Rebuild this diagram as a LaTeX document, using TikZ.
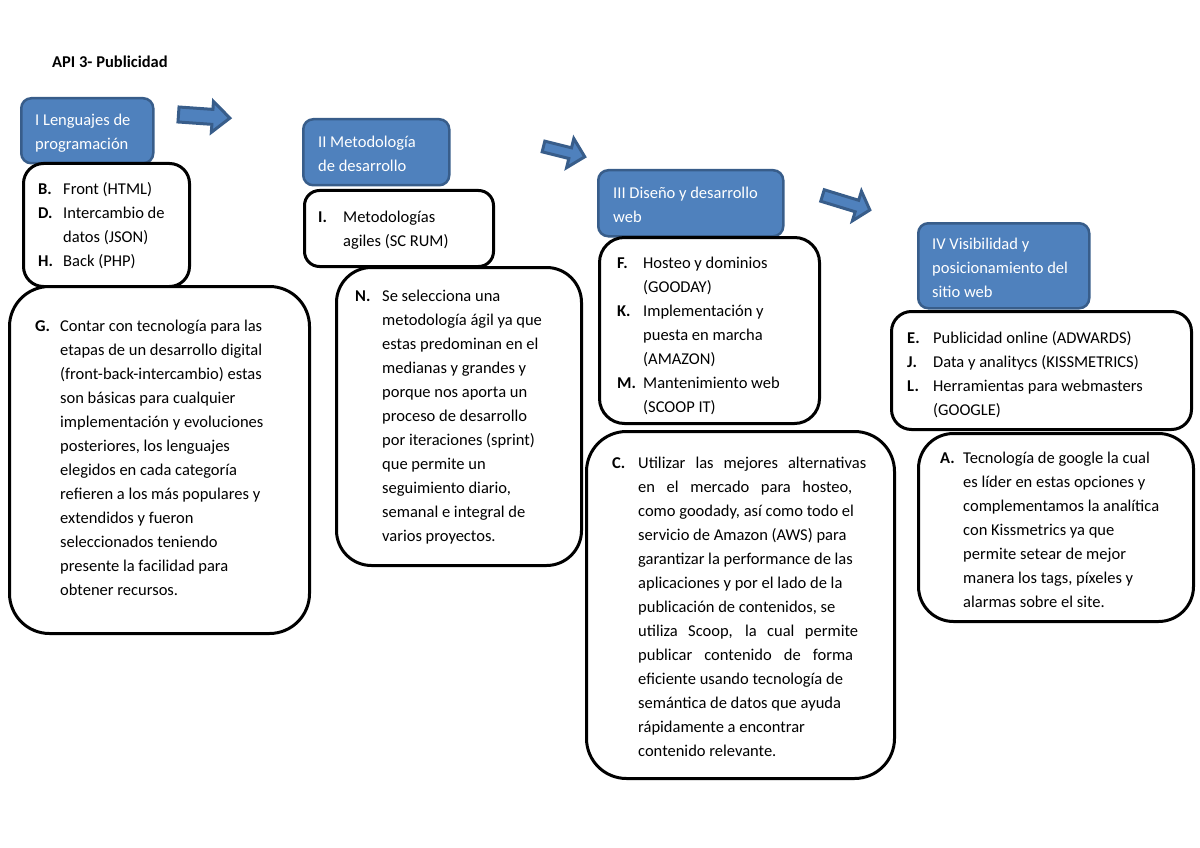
\documentclass[tikz,border=0pt]{standalone}
\usepackage{fontspec}
\setmainfont{Carlito}
\definecolor{bfill}{HTML}{4F81BD}
\definecolor{bline}{HTML}{385D8A}
\newcommand{\itemlab}[2][25pt]{\makebox[#1][l]{\bfseries #2}}
\newcommand{\fst}{\rule{0pt}{16pt}}
\begin{document}
\begin{tikzpicture}[x=1pt,y=-1pt,
  bluebox/.style={draw=bline, fill=bfill, line width=2.5pt, rounded corners=10pt, anchor=north west, inner sep=0pt},
  blackbox/.style={draw=black, fill=white, line width=3pt, rounded corners=#1, anchor=north west, inner sep=0pt},
  txt/.style={anchor=north west, inner sep=0pt, align=left, font=\fontsize{16.5}{24}\selectfont},
  wtxt/.style={txt, text=white},
  arr/.style={draw=bline, fill=bfill, line width=3pt, line join=miter}]
\useasboundingbox (0,0) rectangle (1200,848);

% title
\node[txt, font=\fontsize{16.5}{24}\selectfont\bfseries] (title) at (52,51) {\fst API 3- Publicidad};

% blue heading boxes
\node[bluebox, minimum width=132pt, minimum height=65pt] (h1) at (20,97) {};
\node[bluebox, minimum width=146pt, minimum height=66pt] (h2) at (302,118) {};
\node[bluebox, minimum width=185pt, minimum height=66pt] (h3) at (597,169) {};
\node[bluebox, minimum width=171pt, minimum height=85pt] (h4) at (917,222) {};

\node[wtxt] (h1t) at (35,109) {\fst I Lenguajes de\\programación};
\node[wtxt] (h2t) at (318,131) {\fst II Metodología\\de desarrollo};
\node[wtxt] (h3t) at (613,182) {\fst III Diseño y desarrollo\\web};
\node[wtxt] (h4t) at (932,233) {\fst IV Visibilidad y\\posicionamiento del\\sitio web};

% arrows
\begin{scope}[shift={(178.5,114.5)}, rotate=-4]
  \draw[arr] (0,-7.5) -- (34,-7.5) -- (34,-15.5) -- (51.5,0) -- (34,15.5) -- (34,7.5) -- (0,7.5) -- cycle;
\end{scope}
\begin{scope}[shift={(543.5,146.5)}, rotate=-14]
  \draw[arr] (0,-5.5) -- (27.5,-5.5) -- (27.5,-15) -- (42.5,0) -- (27.5,15) -- (27.5,5.5) -- (0,5.5) -- cycle;
\end{scope}
\begin{scope}[shift={(822.5,195.5)}, rotate=-17]
  \draw[arr] (0,-6) -- (36,-6) -- (36,-15.5) -- (49.5,0) -- (36,15.5) -- (36,6) -- (0,6) -- cycle;
\end{scope}

% column I
\node[blackbox=20pt, minimum width=166pt, minimum height=123pt] (b1) at (22,162) {};
\node[blackbox=40pt, minimum width=300pt, minimum height=347pt] (g1) at (8,285) {};
\node[txt] (b1t) at (38,178) {\fst\itemlab{B.}Front (HTML)\\\itemlab{D.}Intercambio de\\\hspace*{25pt}datos (JSON)\\\itemlab{H.}Back (PHP)};
\node[txt] (g1t) at (35,315) {\fst\itemlab{G.}Contar con tecnología para las\\
\hspace*{25pt}etapas de un desarrollo digital\\
\hspace*{25pt}(front-back-intercambio) estas\\
\hspace*{25pt}son básicas para cualquier\\
\hspace*{25pt}implementación y evoluciones\\
\hspace*{25pt}posteriores, los lenguajes\\
\hspace*{25pt}elegidos en cada categoría\\
\hspace*{25pt}refieren a los más populares y\\
\hspace*{25pt}extendidos y fueron\\
\hspace*{25pt}seleccionados teniendo\\
\hspace*{25pt}presente la facilidad para\\
\hspace*{25pt}obtener recursos.};

% column II
\node[blackbox=15pt, minimum width=189pt, minimum height=76pt] (b2) at (303,189) {};
\node[blackbox=35pt, minimum width=245pt, minimum height=298pt] (n2) at (335,266) {};
\node[txt] (b2t) at (318,206) {\fst\itemlab{I.}Metodologías\\\hspace*{25pt}agiles (SC RUM)};
\node[txt] (n2t) at (355,285) {\fst\itemlab[27pt]{N.}Se selecciona una\\
\hspace*{27pt}metodología ágil ya que\\
\hspace*{27pt}estas predominan en el\\
\hspace*{27pt}medianas y grandes y\\
\hspace*{27pt}porque nos aporta un\\
\hspace*{27pt}proceso de desarrollo\\
\hspace*{27pt}por iteraciones (sprint)\\
\hspace*{27pt}que permite un\\
\hspace*{27pt}seguimiento diario,\\
\hspace*{27pt}semanal e integral de\\
\hspace*{27pt}varios proyectos.};

% column III
\node[blackbox=25pt, minimum width=220pt, minimum height=186pt] (b3) at (598,236) {};
\node[blackbox=40pt, minimum width=308pt, minimum height=347pt] (c3) at (585,430) {};
\node[txt] (b3t) at (617,252) {\fst\itemlab[26pt]{F.}Hosteo y dominios\\
\hspace*{26pt}(GOODAY)\\
\itemlab[26pt]{K.}Implementación y\\
\hspace*{26pt}puesta en marcha\\
\hspace*{26pt}(AMAZON)\\
\itemlab[26pt]{M.}Mantenimiento web\\
\hspace*{26pt}(SCOOP IT)};
\node[txt] (c3t) at (612,452) {\fst\itemlab[26pt]{C.}\makebox[228pt][s]{Utilizar las mejores alternativas}\\
\hspace*{26pt}\makebox[214pt][s]{en el mercado para hosteo,}\\
\hspace*{26pt}como goodady, así como todo el\\
\hspace*{26pt}servicio de Amazon (AWS) para\\
\hspace*{26pt}garantizar la performance de las\\
\hspace*{26pt}aplicaciones y por el lado de la\\
\hspace*{26pt}publicación de contenidos, se\\
\hspace*{26pt}\makebox[220pt][s]{utiliza Scoop, la cual permite}\\
\hspace*{26pt}\makebox[215pt][s]{publicar contenido de forma}\\
\hspace*{26pt}eficiente usando tecnología de\\
\hspace*{26pt}semántica de datos que ayuda\\
\hspace*{26pt}rápidamente a encontrar\\
\hspace*{26pt}contenido relevante.};

% column IV
\node[blackbox=20pt, minimum width=300pt, minimum height=118pt] (b4) at (890,310) {};
\node[blackbox=35pt, minimum width=275pt, minimum height=188pt] (a4) at (917,432) {};
\node[txt] (b4t) at (907,327) {\fst\itemlab[26pt]{E.}Publicidad online (ADWARDS)\\
\itemlab[26pt]{J.}Data y analitycs (KISSMETRICS)\\
\itemlab[26pt]{L.}Herramientas para webmasters\\
\hspace*{26pt}(GOOGLE)};
\node[txt] (a4t) at (940,447) {\fst\itemlab[23pt]{A.}Tecnología de google la cual\\
\hspace*{23pt}es líder en estas opciones y\\
\hspace*{23pt}complementamos la analítica\\
\hspace*{23pt}con Kissmetrics ya que\\
\hspace*{23pt}permite setear de mejor\\
\hspace*{23pt}manera los tags, píxeles y\\
\hspace*{23pt}alarmas sobre el site.};
\end{tikzpicture}
\end{document}
